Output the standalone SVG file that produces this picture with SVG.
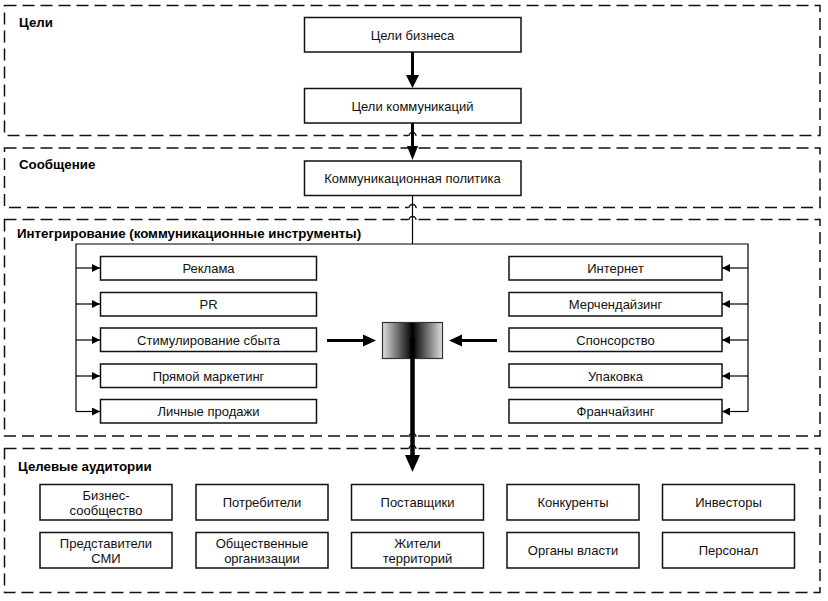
<svg xmlns="http://www.w3.org/2000/svg" width="828" height="601" viewBox="0 0 828 601">
<defs>
<linearGradient id="grad" x1="0" y1="0" x2="1" y2="0">
<stop offset="0" stop-color="#e0e0e0"/>
<stop offset="0.5" stop-color="#000"/>
<stop offset="1" stop-color="#e0e0e0"/>
</linearGradient>
<marker id="ah" markerWidth="8" markerHeight="8" refX="8" refY="4" orient="auto" markerUnits="userSpaceOnUse">
<path d="M0,0 L8,4 L0,8 Z" fill="#000"/>
</marker>
</defs>
<style>
.sec{fill:none;stroke:#111;stroke-width:1.5;stroke-dasharray:12 6}
.box{fill:#fff;stroke:#111;stroke-width:1.5}
.t{font-family:"Liberation Sans",Arial,sans-serif;font-size:13px;fill:#111;text-anchor:middle}
.lbl{font-family:"Liberation Sans",Arial,sans-serif;font-size:13.3px;font-weight:bold;fill:#000}
.thin{fill:none;stroke:#000;stroke-width:1.2}
.thick{fill:none;stroke:#000;stroke-width:3}
.hop{fill:none;stroke:#111;stroke-width:1.3}
.cover{stroke:#fff;stroke-width:3}
</style>
<rect width="828" height="601" fill="#fff"/>
<g id="sections">
<rect class="sec" x="4.5" y="5.5" width="815.5" height="130"/>
<rect class="sec" x="4.5" y="148" width="815.5" height="59.5"/>
<rect class="sec" x="4.5" y="219.5" width="815.5" height="216.5"/>
<rect class="sec" x="4.5" y="448.5" width="815.5" height="144"/>
<text class="lbl" x="19" y="27">Цели</text>
<text class="lbl" x="19" y="169">Сообщение</text>
<text class="lbl" x="17" y="238">Интегрирование (коммуникационные инструменты)</text>
<text class="lbl" x="18" y="471">Целевые аудитории</text>
</g>
<g id="connectors">
<line class="cover" x1="408.5" y1="135.5" x2="416.5" y2="135.5"/>
<line class="cover" x1="408.5" y1="148" x2="416.5" y2="148"/>
<line class="cover" x1="408.5" y1="207.5" x2="416.5" y2="207.5"/>
<line class="cover" x1="408.5" y1="219.5" x2="416.5" y2="219.5"/>
<line class="cover" x1="408.5" y1="436" x2="416.5" y2="436"/>
<line class="cover" x1="408.5" y1="448.5" x2="416.5" y2="448.5"/>
<path class="hop" d="M409,136 A3.5,3.5 0 0 1 416,136"/>
<path class="hop" d="M409,208 A3.5,3.5 0 0 1 416,208"/>
<path class="hop" d="M409,220 A3.5,3.5 0 0 1 416,220"/>
<path class="hop" d="M409,437 A3.5,3.5 0 0 1 416,437"/>
<path class="hop" d="M409,449 A3.5,3.5 0 0 1 416,449"/>
<line class="thick" x1="412.5" y1="52" x2="412.5" y2="77"/>
<polygon points="406,75 419,75 412.5,88" fill="#000"/>
<line class="thick" x1="412.5" y1="123" x2="412.5" y2="148"/>
<polygon points="407,146 418,146 412.5,160" fill="#000"/>
<line class="thin" x1="412.5" y1="196" x2="412.5" y2="244"/>
<polyline class="thin" points="76,411.5 76,244 748,244 748,411.5"/>
<line class="thin" x1="76" y1="268" x2="100" y2="268" marker-end="url(#ah)"/>
<line class="thin" x1="76" y1="304" x2="100" y2="304" marker-end="url(#ah)"/>
<line class="thin" x1="76" y1="340" x2="100" y2="340" marker-end="url(#ah)"/>
<line class="thin" x1="76" y1="376" x2="100" y2="376" marker-end="url(#ah)"/>
<line class="thin" x1="76" y1="411.5" x2="100" y2="411.5" marker-end="url(#ah)"/>
<line class="thin" x1="748" y1="268" x2="722" y2="268" marker-end="url(#ah)"/>
<line class="thin" x1="748" y1="304" x2="722" y2="304" marker-end="url(#ah)"/>
<line class="thin" x1="748" y1="340" x2="722" y2="340" marker-end="url(#ah)"/>
<line class="thin" x1="748" y1="376" x2="722" y2="376" marker-end="url(#ah)"/>
<line class="thin" x1="748" y1="411.5" x2="722" y2="411.5" marker-end="url(#ah)"/>
<line class="thick" x1="327" y1="340.5" x2="365" y2="340.5"/>
<polygon points="363,334.5 376,340.5 363,346.5" fill="#000"/>
<line class="thick" x1="497" y1="340.5" x2="460" y2="340.5"/>
<polygon points="462,334.5 449,340.5 462,346.5" fill="#000"/>
</g>
<g id="n-goals-business"><rect class="box" x="304.5" y="17.5" width="216.5" height="34.5"/><text class="t" x="412.5" y="39.5">Цели бизнеса</text></g>
<g id="n-goals-comm"><rect class="box" x="304.5" y="88.5" width="216.5" height="34.5"/><text class="t" x="412.5" y="110.5">Цели коммуникаций</text></g>
<g id="n-policy"><rect class="box" x="304.5" y="161" width="216.5" height="34.5"/><text class="t" x="412.5" y="183">Коммуникационная политика</text></g>
<g id="n-ads"><rect class="box" x="100.5" y="256.5" width="216" height="23.5"/><text class="t" x="208.5" y="273">Реклама</text></g>
<g id="n-pr"><rect class="box" x="100.5" y="292.5" width="216" height="23.5"/><text class="t" x="208.5" y="309">PR</text></g>
<g id="n-promo"><rect class="box" x="100.5" y="328" width="216" height="23.5"/><text class="t" x="208.5" y="344.5">Стимулирование сбыта</text></g>
<g id="n-direct"><rect class="box" x="100.5" y="364" width="216" height="23.5"/><text class="t" x="208.5" y="380.5">Прямой маркетинг</text></g>
<g id="n-sales"><rect class="box" x="100.5" y="399.5" width="216" height="23.5"/><text class="t" x="208.5" y="416">Личные продажи</text></g>
<g id="n-internet"><rect class="box" x="509" y="256.5" width="213" height="23.5"/><text class="t" x="615.5" y="273">Интернет</text></g>
<g id="n-merch"><rect class="box" x="509" y="292.5" width="213" height="23.5"/><text class="t" x="615.5" y="309">Мерчендайзинг</text></g>
<g id="n-sponsor"><rect class="box" x="509" y="328" width="213" height="23.5"/><text class="t" x="615.5" y="344.5">Спонсорство</text></g>
<g id="n-pack"><rect class="box" x="509" y="364" width="213" height="23.5"/><text class="t" x="615.5" y="380.5">Упаковка</text></g>
<g id="n-franch"><rect class="box" x="509" y="399.5" width="213" height="23.5"/><text class="t" x="615.5" y="416">Франчайзинг</text></g>
<g id="n-mix"><rect x="382.5" y="322.5" width="60" height="36" fill="url(#grad)" stroke="#333" stroke-width="1.2"/></g>
<g id="connector-main">
<line stroke="#000" stroke-width="4.5" x1="412.5" y1="338" x2="412.5" y2="458"/>
<polygon points="405,455 420,455 412.5,472" fill="#000"/>
</g>
<g id="n-business"><rect class="box" x="40" y="484.5" width="132" height="35.5"/><text class="t" x="106" y="499.5">Бизнес-</text><text class="t" x="106" y="514.5">сообщество</text></g>
<g id="n-consumers"><rect class="box" x="196" y="484.5" width="132" height="35.5"/><text class="t" x="262" y="507">Потребители</text></g>
<g id="n-suppliers"><rect class="box" x="351.5" y="484.5" width="132" height="35.5"/><text class="t" x="417.5" y="507">Поставщики</text></g>
<g id="n-competitors"><rect class="box" x="507" y="484.5" width="132" height="35.5"/><text class="t" x="573" y="507">Конкуренты</text></g>
<g id="n-investors"><rect class="box" x="662.5" y="484.5" width="132" height="35.5"/><text class="t" x="728.5" y="507">Инвесторы</text></g>
<g id="n-media"><rect class="box" x="40" y="532.5" width="132" height="35.5"/><text class="t" x="106" y="547.5">Представители</text><text class="t" x="106" y="562.5">СМИ</text></g>
<g id="n-public"><rect class="box" x="196" y="532.5" width="132" height="35.5"/><text class="t" x="262" y="547.5">Общественные</text><text class="t" x="262" y="562.5">организации</text></g>
<g id="n-residents"><rect class="box" x="351.5" y="532.5" width="132" height="35.5"/><text class="t" x="417.5" y="547.5">Жители</text><text class="t" x="417.5" y="562.5">территорий</text></g>
<g id="n-authorities"><rect class="box" x="507" y="532.5" width="132" height="35.5"/><text class="t" x="573" y="555">Органы власти</text></g>
<g id="n-staff"><rect class="box" x="662.5" y="532.5" width="132" height="35.5"/><text class="t" x="728.5" y="555">Персонал</text></g>
</svg>
